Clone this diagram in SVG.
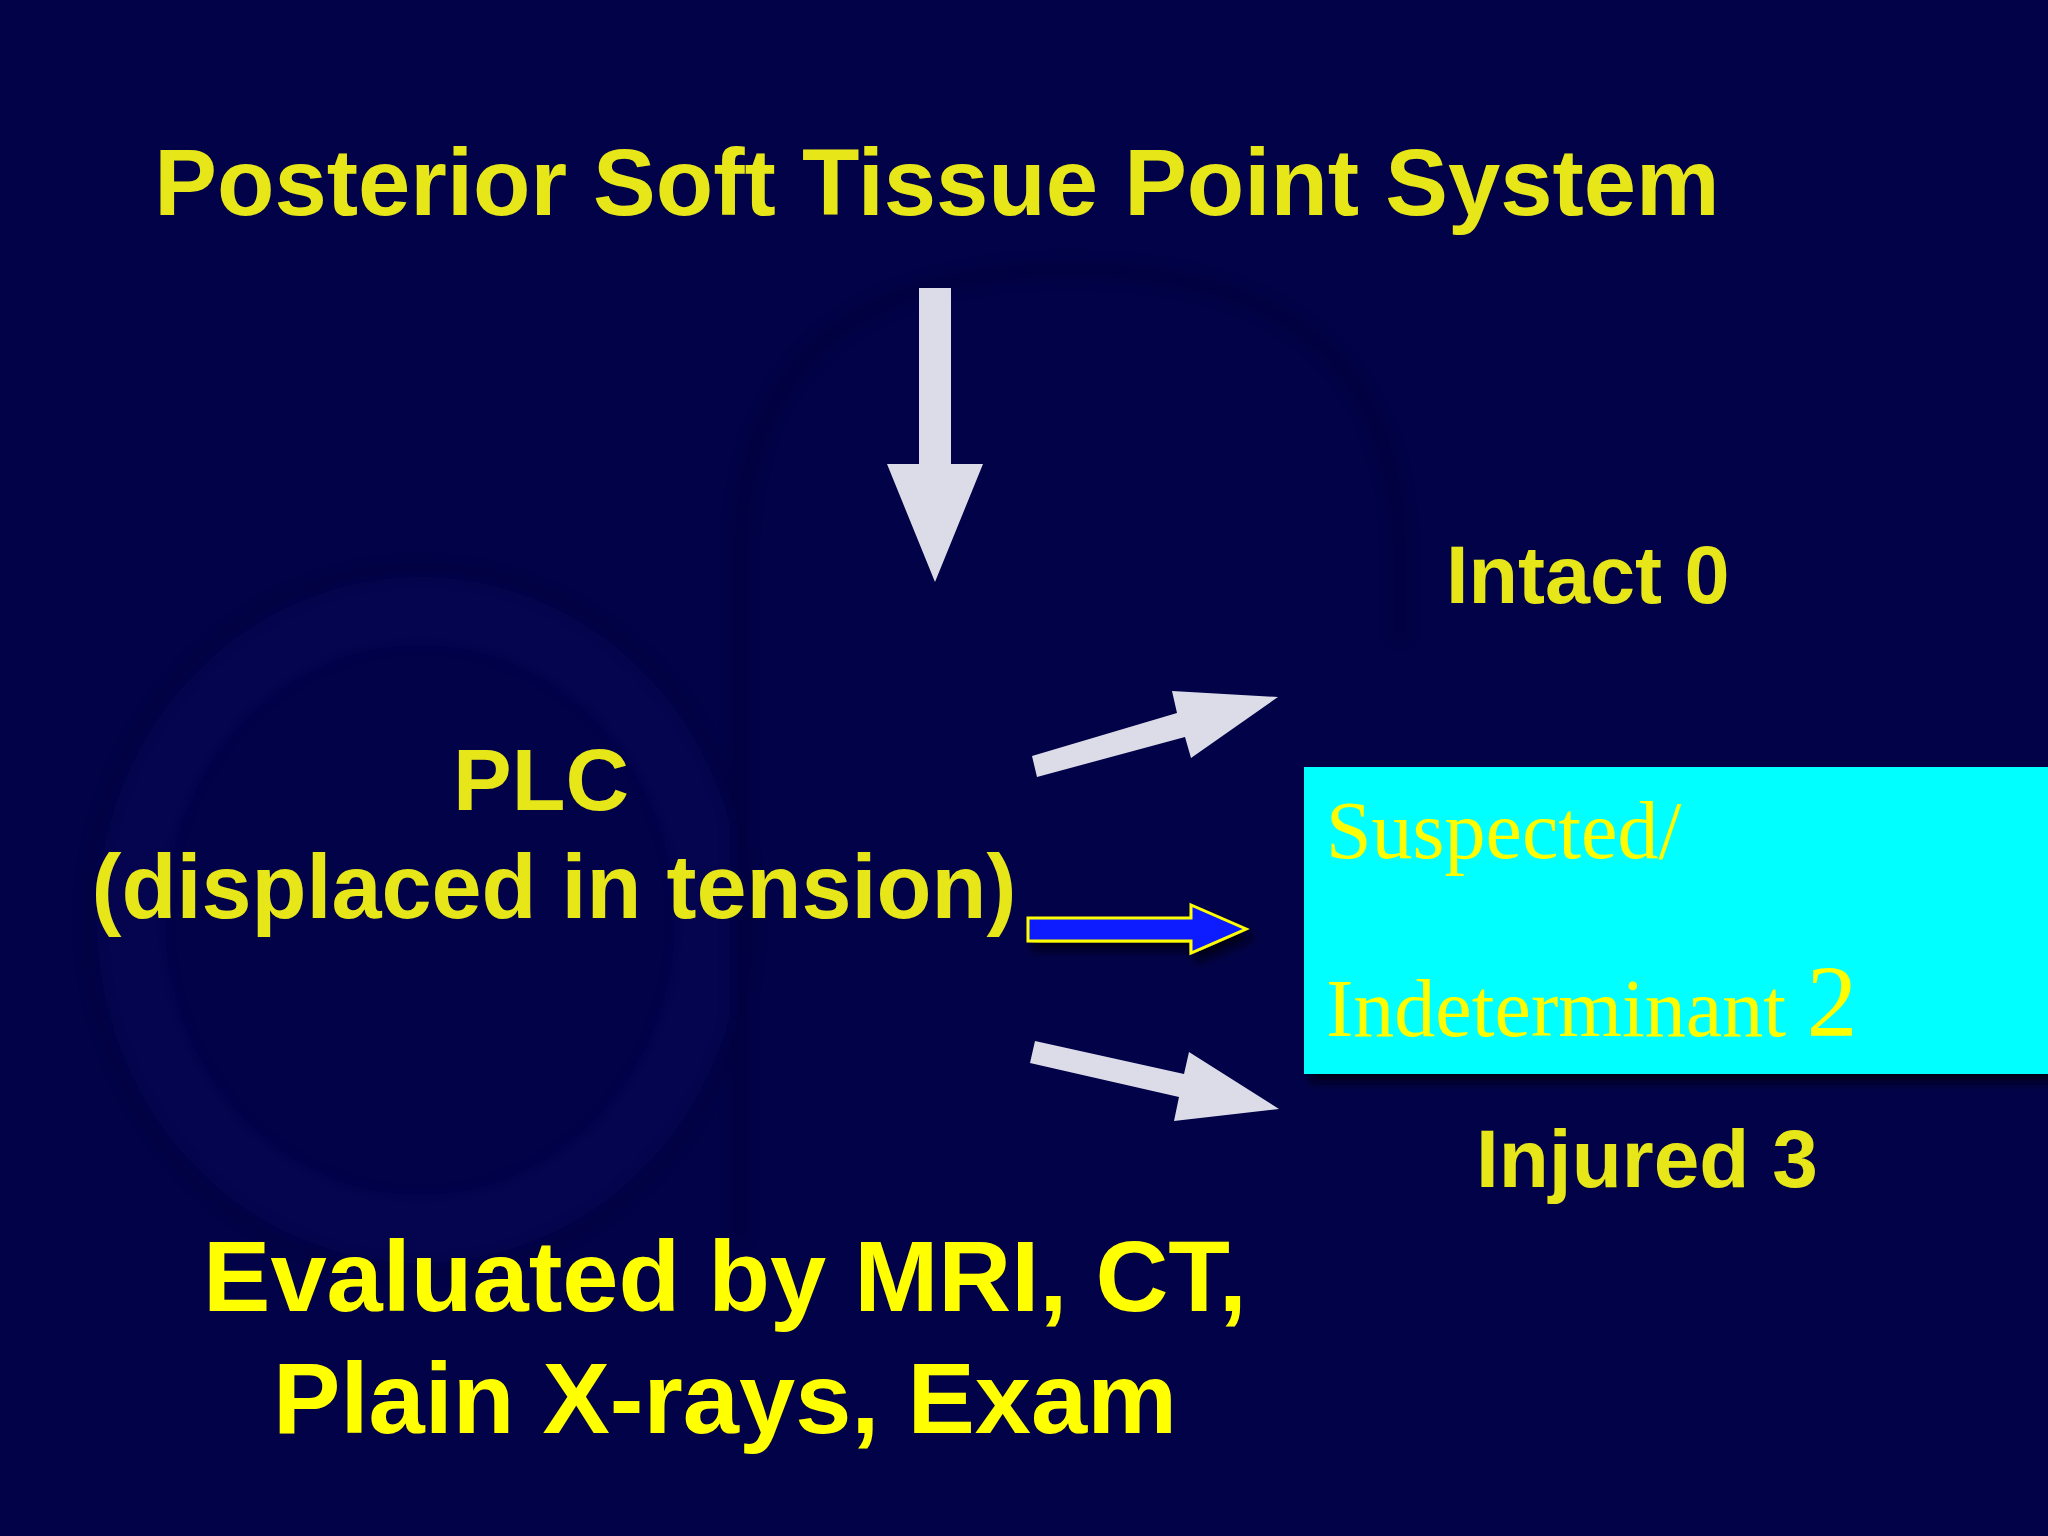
<svg xmlns="http://www.w3.org/2000/svg" width="2048" height="1536" viewBox="0 0 2048 1536">
<defs>
<style>
.hd{font-family:"Liberation Sans",Arial,sans-serif;font-weight:bold;fill:#e6e618}
.bt{font-family:"Liberation Sans",Arial,sans-serif;font-weight:bold;fill:#ffff00}
.tm{font-family:"Liberation Serif","Times New Roman",serif;fill:#ffff00}
.wa{fill:#dcdce8}
</style>
<filter id="sh" x="-10%" y="-10%" width="130%" height="140%">
<feGaussianBlur in="SourceAlpha" stdDeviation="5"/>
<feOffset dx="6" dy="8" result="b"/>
<feFlood flood-color="#000010" flood-opacity="0.85"/>
<feComposite in2="b" operator="in"/>
<feMerge><feMergeNode/><feMergeNode in="SourceGraphic"/></feMerge>
</filter>
<filter id="bl"><feGaussianBlur stdDeviation="6"/></filter>
</defs>
<rect width="2048" height="1536" fill="#020248"/>
<g id="watermark" opacity="0.18" filter="url(#bl)">
<ellipse cx="420" cy="920" rx="290" ry="310" fill="none" stroke="#0a0a70" stroke-width="70"/>
<ellipse cx="420" cy="920" rx="330" ry="350" fill="none" stroke="#000020" stroke-width="14"/>
<path d="M740 1240 L740 560 Q740 270 1070 270 Q1400 270 1400 560 L1400 640" fill="none" stroke="#000020" stroke-width="20"/>
</g>
<g id="title"><text class="hd" x="937" y="215" font-size="94" text-anchor="middle">Posterior Soft Tissue Point System</text></g>
<g id="plc">
<text class="hd" x="541" y="810" font-size="88" text-anchor="middle">PLC</text>
<text class="hd" x="554" y="918" font-size="90" text-anchor="middle">(displaced in tension)</text>
</g>
<g id="intact"><text class="hd" x="1446" y="603" font-size="81">Intact 0</text></g>
<g id="suspected">
<rect x="1304" y="767" width="760" height="307" fill="#00ffff" filter="url(#sh)"/>
<text class="tm" x="1326" y="858" font-size="82">Suspected/</text>
<text class="tm" x="1326" y="1036" font-size="82">Indeterminant <tspan font-size="102">2</tspan></text>
</g>
<g id="injured"><text class="hd" x="1476" y="1187" font-size="82">Injured 3</text></g>
<g id="evaluated">
<text class="bt" x="725" y="1311" font-size="101" text-anchor="middle">Evaluated by MRI, CT,</text>
<text class="bt" x="725" y="1433" font-size="101" text-anchor="middle">Plain X-rays, Exam</text>
</g>
<g id="connectors">
<polygon class="wa" points="919,288 951,288 951,464 983,464 935,582 887,464 919,464"/>
<polygon class="wa" points="1032,756 1177,713 1172,691 1278,697 1191,758 1185,737 1037,777"/>
<polygon class="wa" points="1035,1041 1184,1074 1189,1052 1279,1109 1174,1121 1179,1097 1030,1063"/>
<polygon points="1028,918 1191,918 1191,905 1246,929 1191,953 1191,941 1028,941" fill="#0a1aff" stroke="#ffff00" stroke-width="3" filter="url(#sh)"/>
</g>
</svg>
